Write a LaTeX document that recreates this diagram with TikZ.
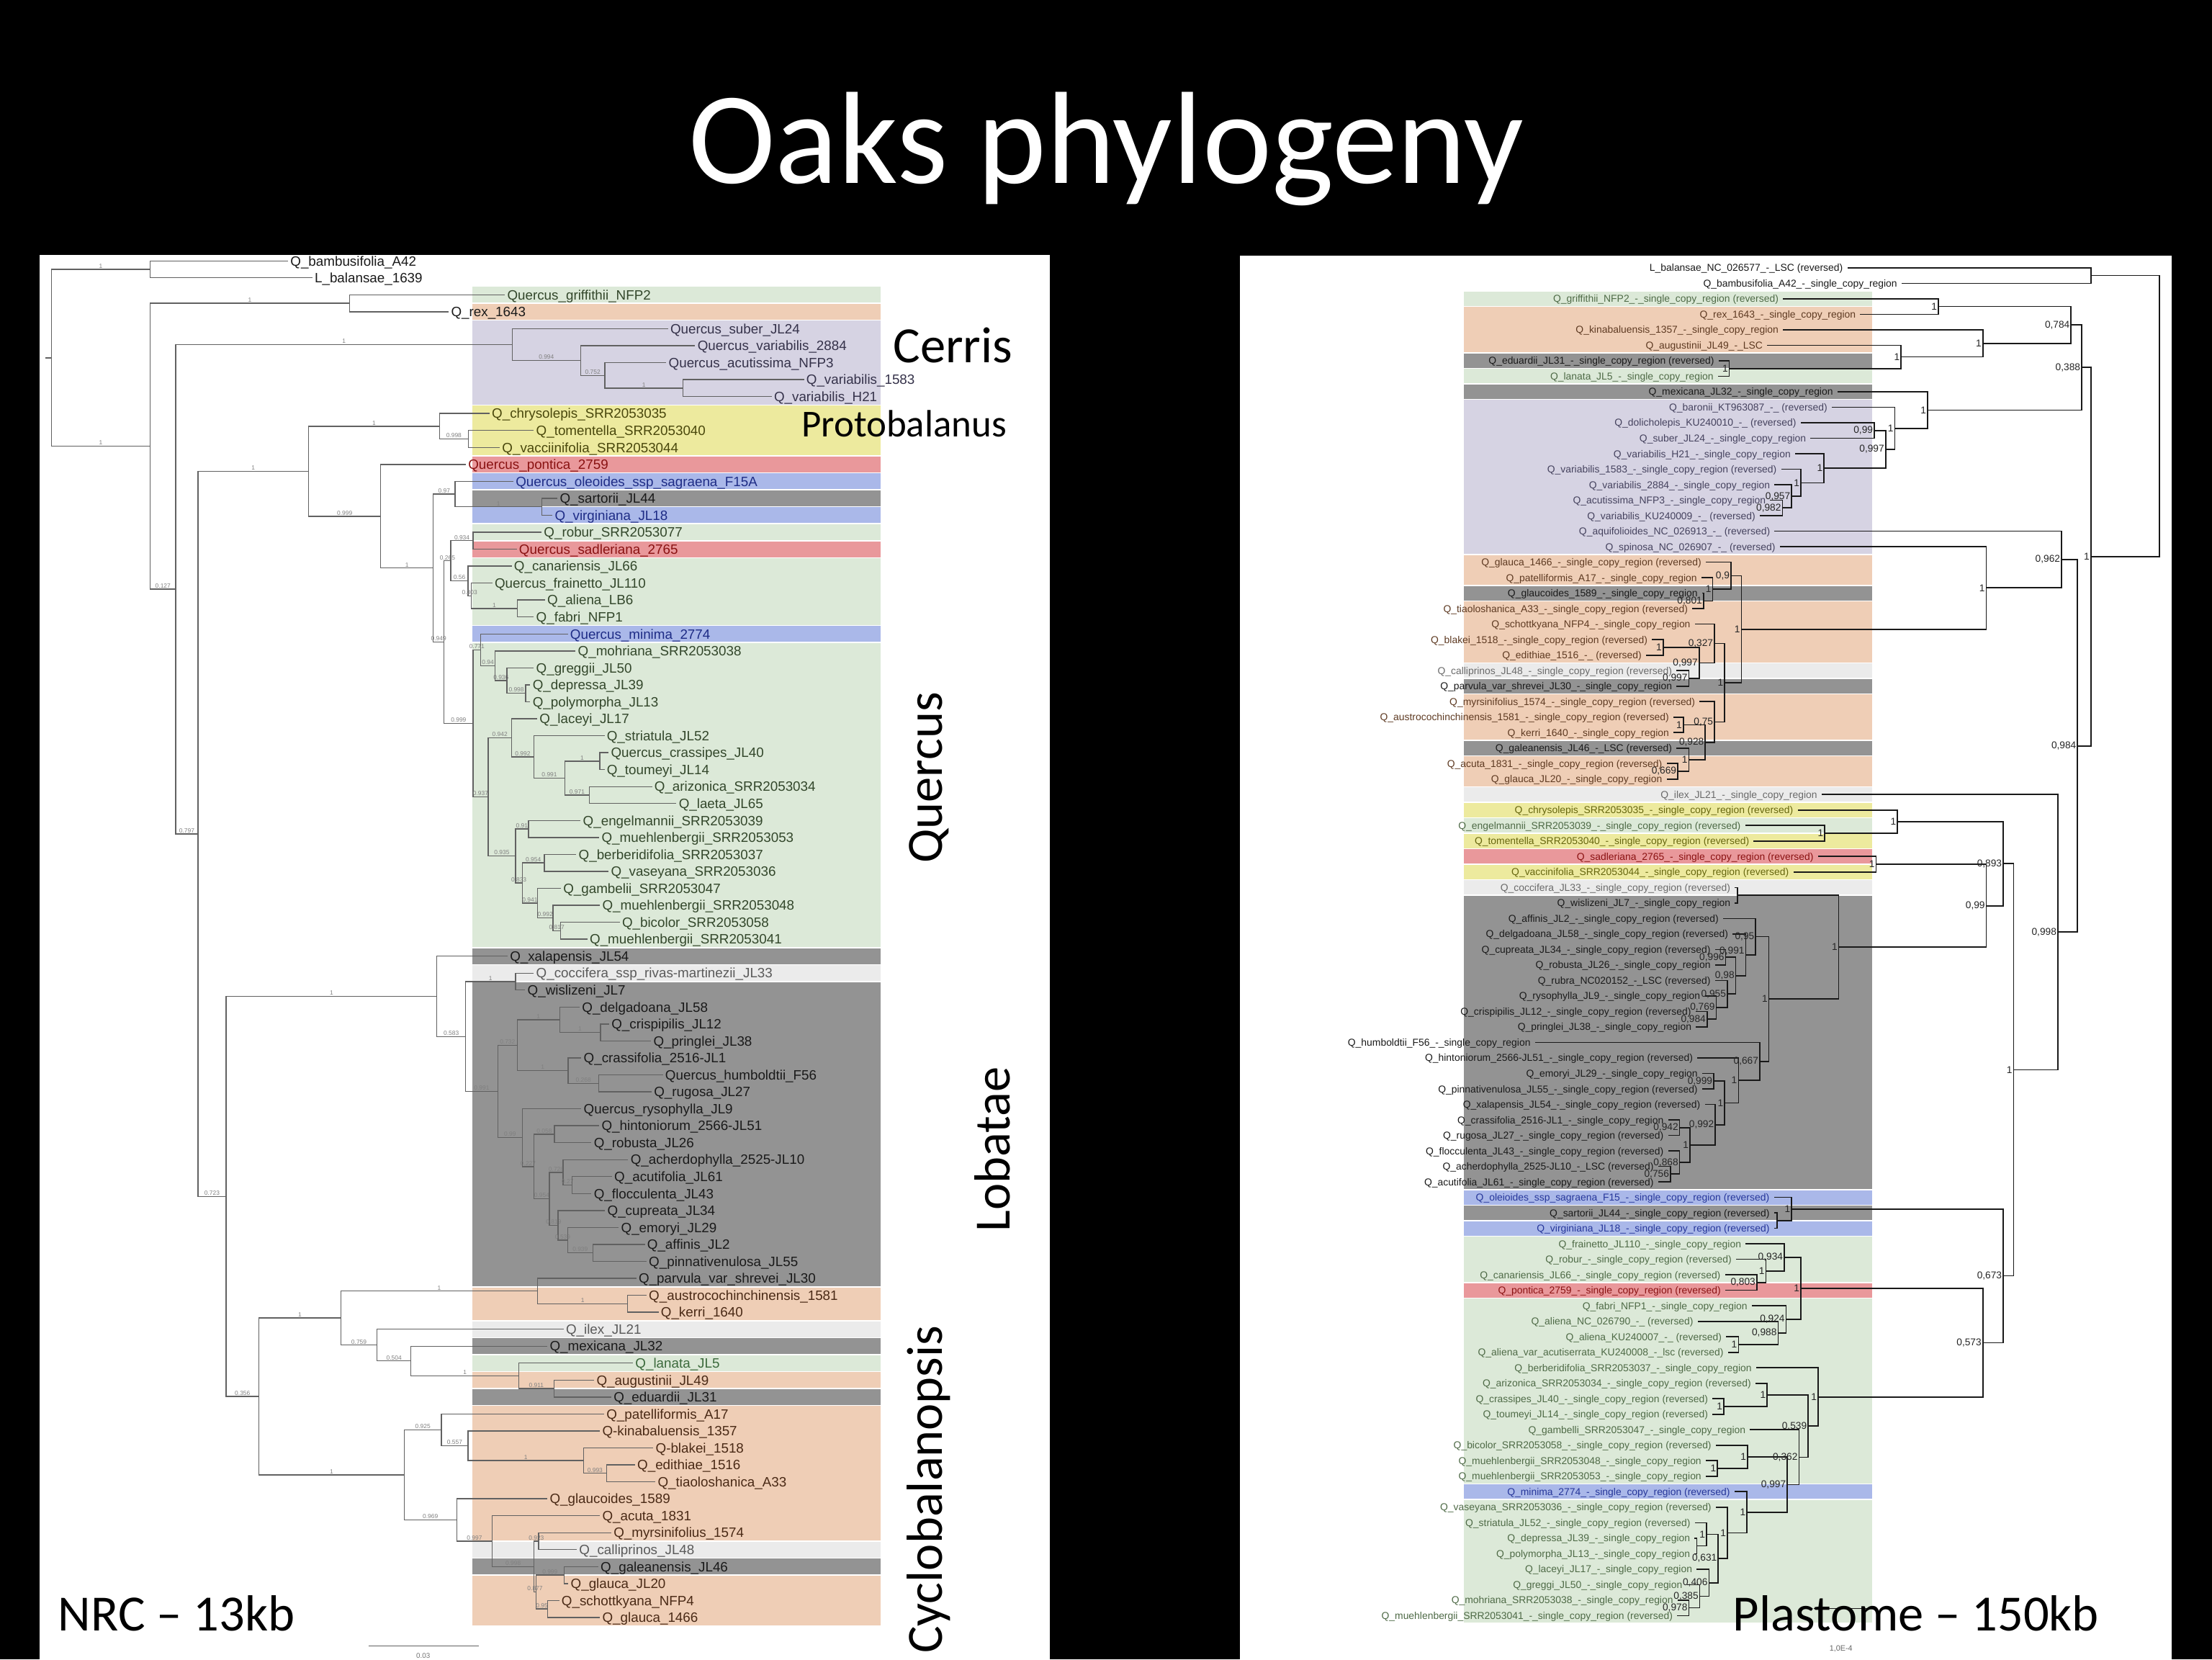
\documentclass[tikz,border=0pt]{standalone}
\usepackage{fontspec}
\setmainfont{Liberation Sans}
\newfontfamily\calfnt{Carlito}
\definecolor{bpeach}{HTML}{EFCEB6}
\definecolor{blav}{HTML}{D6D3E3}
\definecolor{bgreen}{HTML}{DCE9D8}
\definecolor{byellow}{HTML}{EDEA9E}
\definecolor{bred}{HTML}{E9989B}
\definecolor{bblue}{HTML}{AAB8E9}
\definecolor{bgray}{HTML}{939393}
\definecolor{blgray}{HTML}{EBEBEB}
\definecolor{ctk}{HTML}{1A1A1A}
\definecolor{ctg}{HTML}{33472B}
\definecolor{ctp}{HTML}{4A2A16}
\definecolor{ctv}{HTML}{35324A}
\definecolor{cty}{HTML}{4A480C}
\definecolor{ctr}{HTML}{8A1212}
\definecolor{ctb}{HTML}{1E2C86}
\definecolor{ctq}{HTML}{5A5A5A}
\definecolor{ctn}{HTML}{3C6A3C}
\definecolor{cug}{HTML}{4E6A46}
\definecolor{cup}{HTML}{5E3A22}
\definecolor{cuv}{HTML}{45425E}
\definecolor{cuy}{HTML}{66660E}
\definecolor{cub}{HTML}{26369A}
\definecolor{cuq}{HTML}{6A6A6A}
\newcommand\qn[1]{\detokenize{#1}}
\newcommand\LY[1]{184.9+12.018*(#1)}
\newcommand\RY[1]{189.8+10.98*(#1)}
\begin{document}
\begin{tikzpicture}[x=1pt,y=-1pt,
  ll/.style={anchor=west,font=\fontsize{9.6}{10}\selectfont,inner xsep=1.5pt,inner ysep=0pt,text height=6.9pt,text depth=0pt},
  rl/.style={anchor=east,font=\fontsize{7.1}{8}\selectfont,inner xsep=3pt,inner ysep=0pt,text height=5.1pt,text depth=0pt},
  ltr/.style={draw=black!62,line width=0.7pt},
  rtr/.style={draw=black!90,line width=0.85pt},
  ls/.style={pos=0.75,above,font=\fontsize{4.3}{4.3}\selectfont,text=black!50,inner sep=0.5pt},
  rs/.style={anchor=east,font=\fontsize{7}{7}\selectfont,text=black!85,inner sep=0.8pt},
  bigt/.style={font=\calfnt\fontsize{36}{36}\selectfont,inner sep=0pt,text=black},
  tk/.style={text=ctk},tg/.style={text=ctg},tp/.style={text=ctp},tv/.style={text=ctv},
  ty/.style={text=cty},tr/.style={text=ctr},tb/.style={text=ctb},tq/.style={text=ctq},tn/.style={text=ctn},
  ug/.style={text=cug},up/.style={text=cup},uv/.style={text=cuv},uy/.style={text=cuy},
  ub/.style={text=cub},uq/.style={text=cuq}]
\useasboundingbox (0,0) rectangle (1568,1176);
\fill[black] (0,0) rectangle (1568,1176);
\fill[white] (28.1,180.5) rectangle (744,1176);
\fill[white] (879,181) rectangle (1539.5,1176);
\node[font=\calfnt\fontsize{93}{93}\selectfont,text=white,anchor=base,inner sep=0pt] (title) at (784,130) {Oaks phylogeny};

% ---------- left bands
\foreach \a/\b/\c in {2/2/bgreen,3/3/bpeach,4/8/blav,9/11/byellow,12/12/bred,13/13/bblue,14/14/bgray,15/15/bblue,16/16/bgreen,17/17/bred,18/21/bgreen,22/22/bblue,23/40/bgreen,41/41/bgray,42/42/blgray,43/60/bgray,61/62/bpeach,63/63/blgray,64/64/bgray,65/65/bgreen,66/66/bpeach,67/67/bgray,68/75/bpeach,76/76/blgray,77/77/bgray,78/80/bpeach}
  \fill[\c] (334.8,{\LY{\a}-5.6}) rectangle (624.4,{\LY{\b}+5.6});
% ---------- right bands
\foreach \a/\b/\c in {2/2/bgreen,3/5/bpeach,6/6/bgray,7/7/bgreen,8/8/bgray,9/18/blav,19/20/bpeach,21/21/bgray,22/25/bpeach,26/26/blgray,27/27/bgray,28/30/bpeach,31/31/bgray,32/33/bpeach,34/34/blgray,35/35/byellow,36/36/bgreen,37/37/byellow,38/38/bred,39/39/byellow,40/40/blgray,41/59/bgray,60/60/bblue,61/61/bgray,62/62/bblue,63/65/bgreen,66/66/bred,67/78/bgreen,79/79/bblue,80/87/bgreen}
  \fill[\c] (1037.7,{\RY{\a}-5.1}) rectangle (1327.3,{\RY{\b}+5.1});

% ---------- left leaves
\node[ll,tk] (a0) at (204.2,{\LY{0}}) {\qn{Q_bambusifolia_A42}};
\node[ll,tk] (a1) at (221.4,{\LY{1}}) {\qn{L_balansae_1639}};
\node[ll,tg] (a2) at (357.9,{\LY{2}}) {\qn{Quercus_griffithii_NFP2}};
\node[ll,tk] (a3) at (318.1,{\LY{3}}) {\qn{Q_rex_1643}};
\node[ll,tv] (a4) at (473.5,{\LY{4}}) {\qn{Quercus_suber_JL24}};
\node[ll,tv] (a5) at (492.8,{\LY{5}}) {\qn{Quercus_variabilis_2884}};
\node[ll,tv] (a6) at (472.3,{\LY{6}}) {\qn{Quercus_acutissima_NFP3}};
\node[ll,tv] (a7) at (569.9,{\LY{7}}) {\qn{Q_variabilis_1583}};
\node[ll,tv] (a8) at (547.0,{\LY{8}}) {\qn{Q_variabilis_H21}};
\node[ll,ty] (a9) at (347.0,{\LY{9}}) {\qn{Q_chrysolepis_SRR2053035}};
\node[ll,ty] (a10) at (378.4,{\LY{10}}) {\qn{Q_tomentella_SRR2053040}};
\node[ll,ty] (a11) at (354.3,{\LY{11}}) {\qn{Q_vacciinifolia_SRR2053044}};
\node[ll,tr] (a12) at (330.2,{\LY{12}}) {\qn{Quercus_pontica_2759}};
\node[ll,tb] (a13) at (363.9,{\LY{13}}) {\qn{Quercus_oleoides_ssp_sagraena_F15A}};
\node[ll,tk] (a14) at (395.2,{\LY{14}}) {\qn{Q_sartorii_JL44}};
\node[ll,tb] (a15) at (391.6,{\LY{15}}) {\qn{Q_virginiana_JL18}};
\node[ll,tg] (a16) at (383.9,{\LY{16}}) {\qn{Q_robur_SRR2053077}};
\node[ll,tr] (a17) at (366.3,{\LY{17}}) {\qn{Quercus_sadleriana_2765}};
\node[ll,tg] (a18) at (362.7,{\LY{18}}) {\qn{Q_canariensis_JL66}};
\node[ll,tg] (a19) at (349.0,{\LY{19}}) {\qn{Quercus_frainetto_JL110}};
\node[ll,tg] (a20) at (386.3,{\LY{20}}) {\qn{Q_aliena_LB6}};
\node[ll,tg] (a21) at (378.4,{\LY{21}}) {\qn{Q_fabri_NFP1}};
\node[ll,tb] (a22) at (402.5,{\LY{22}}) {\qn{Quercus_minima_2774}};
\node[ll,tg] (a23) at (408.0,{\LY{23}}) {\qn{Q_mohriana_SRR2053038}};
\node[ll,tg] (a24) at (378.4,{\LY{24}}) {\qn{Q_greggii_JL50}};
\node[ll,tg] (a25) at (375.9,{\LY{25}}) {\qn{Q_depressa_JL39}};
\node[ll,tg] (a26) at (375.9,{\LY{26}}) {\qn{Q_polymorpha_JL13}};
\node[ll,tg] (a27) at (380.8,{\LY{27}}) {\qn{Q_laceyi_JL17}};
\node[ll,tg] (a28) at (428.5,{\LY{28}}) {\qn{Q_striatula_JL52}};
\node[ll,tg] (a29) at (431.4,{\LY{29}}) {\qn{Quercus_crassipes_JL40}};
\node[ll,tg] (a30) at (428.5,{\LY{30}}) {\qn{Q_toumeyi_JL14}};
\node[ll,tg] (a31) at (462.2,{\LY{31}}) {\qn{Q_arizonica_SRR2053034}};
\node[ll,tg] (a32) at (479.5,{\LY{32}}) {\qn{Q_laeta_JL65}};
\node[ll,tg] (a33) at (411.6,{\LY{33}}) {\qn{Q_engelmannii_SRR2053039}};
\node[ll,tg] (a34) at (424.8,{\LY{34}}) {\qn{Q_muehlenbergii_SRR2053053}};
\node[ll,tg] (a35) at (408.5,{\LY{35}}) {\qn{Q_berberidifolia_SRR2053037}};
\node[ll,tg] (a36) at (431.4,{\LY{36}}) {\qn{Q_vaseyana_SRR2053036}};
\node[ll,tg] (a37) at (397.6,{\LY{37}}) {\qn{Q_gambelii_SRR2053047}};
\node[ll,tg] (a38) at (425.3,{\LY{38}}) {\qn{Q_muehlenbergii_SRR2053048}};
\node[ll,tg] (a39) at (439.3,{\LY{39}}) {\qn{Q_bicolor_SRR2053058}};
\node[ll,tg] (a40) at (416.4,{\LY{40}}) {\qn{Q_muehlenbergii_SRR2053041}};
\node[ll,tk] (a41) at (359.8,{\LY{41}}) {\qn{Q_xalapensis_JL54}};
\node[ll,tq] (a42) at (378.4,{\LY{42}}) {\qn{Q_coccifera_ssp_rivas-martinezii_JL33}};
\node[ll,tk] (a43) at (372.3,{\LY{43}}) {\qn{Q_wislizeni_JL7}};
\node[ll,tk] (a44) at (410.9,{\LY{44}}) {\qn{Q_delgadoana_JL58}};
\node[ll,tk] (a45) at (431.8,{\LY{45}}) {\qn{Q_crispipilis_JL12}};
\node[ll,tk] (a46) at (461.5,{\LY{46}}) {\qn{Q_pringlei_JL38}};
\node[ll,tk] (a47) at (412.1,{\LY{47}}) {\qn{Q_crassifolia_2516-JL1}};
\node[ll,tk] (a48) at (469.9,{\LY{48}}) {\qn{Quercus_humboldtii_F56}};
\node[ll,tk] (a49) at (461.9,{\LY{49}}) {\qn{Q_rugosa_JL27}};
\node[ll,tk] (a50) at (412.1,{\LY{50}}) {\qn{Quercus_rysophylla_JL9}};
\node[ll,tk] (a51) at (424.8,{\LY{51}}) {\qn{Q_hintoniorum_2566-JL51}};
\node[ll,tk] (a52) at (419.3,{\LY{52}}) {\qn{Q_robusta_JL26}};
\node[ll,tk] (a53) at (445.3,{\LY{53}}) {\qn{Q_acherdophylla_2525-JL10}};
\node[ll,tk] (a54) at (433.8,{\LY{54}}) {\qn{Q_acutifolia_JL61}};
\node[ll,tk] (a55) at (419.3,{\LY{55}}) {\qn{Q_flocculenta_JL43}};
\node[ll,tk] (a56) at (428.9,{\LY{56}}) {\qn{Q_cupreata_JL34}};
\node[ll,tk] (a57) at (438.6,{\LY{57}}) {\qn{Q_emoryi_JL29}};
\node[ll,tk] (a58) at (457.1,{\LY{58}}) {\qn{Q_affinis_JL2}};
\node[ll,tk] (a59) at (458.3,{\LY{59}}) {\qn{Q_pinnativenulosa_JL55}};
\node[ll,tk] (a60) at (451.1,{\LY{60}}) {\qn{Q_parvula_var_shrevei_JL30}};
\node[ll,tp] (a61) at (458.3,{\LY{61}}) {\qn{Q_austrocochinchinensis_1581}};
\node[ll,tp] (a62) at (466.8,{\LY{62}}) {\qn{Q_kerri_1640}};
\node[ll,tq] (a63) at (399.5,{\LY{63}}) {\qn{Q_ilex_JL21}};
\node[ll,tk] (a64) at (388.0,{\LY{64}}) {\qn{Q_mexicana_JL32}};
\node[ll,tn] (a65) at (448.7,{\LY{65}}) {\qn{Q_lanata_JL5}};
\node[ll,tp] (a66) at (421.2,{\LY{66}}) {\qn{Q_augustinii_JL49}};
\node[ll,tk] (a67) at (433.3,{\LY{67}}) {\qn{Q_eduardii_JL31}};
\node[ll,tp] (a68) at (428.2,{\LY{68}}) {\qn{Q_patelliformis_A17}};
\node[ll,tp] (a69) at (425.3,{\LY{69}}) {\qn{Q-kinabaluensis_1357}};
\node[ll,tp] (a70) at (463.1,{\LY{70}}) {\qn{Q-blakei_1518}};
\node[ll,tp] (a71) at (450.1,{\LY{71}}) {\qn{Q_edithiae_1516}};
\node[ll,tp] (a72) at (464.6,{\LY{72}}) {\qn{Q_tiaoloshanica_A33}};
\node[ll,tp] (a73) at (388.0,{\LY{73}}) {\qn{Q_glaucoides_1589}};
\node[ll,tp] (a74) at (425.3,{\LY{74}}) {\qn{Q_acuta_1831}};
\node[ll,tp] (a75) at (433.3,{\LY{75}}) {\qn{Q_myrsinifolius_1574}};
\node[ll,tq] (a76) at (408.9,{\LY{76}}) {\qn{Q_calliprinos_JL48}};
\node[ll,tk] (a77) at (424.1,{\LY{77}}) {\qn{Q_galeanensis_JL46}};
\node[ll,tp] (a78) at (402.9,{\LY{78}}) {\qn{Q_glauca_JL20}};
\node[ll,tp] (a79) at (396.4,{\LY{79}}) {\qn{Q_schottkyana_NFP4}};
\node[ll,tp] (a80) at (425.3,{\LY{80}}) {\qn{Q_glauca_1466}};

% ---------- left internal nodes
\coordinate (Lst) at (32.1,{\LY{5.72}});
\coordinate (L0) at (36.6,{\LY{5.72}});
\coordinate (L1) at (106.4,{\LY{0.5}});
\coordinate (L2) at (106.4,{\LY{10.93}});
\coordinate (L3) at (247.7,{\LY{2.5}});
\coordinate (L4) at (124.6,{\LY{19.36}});
\coordinate (C1) at (363,{\LY{4.9375}});
\coordinate (C2) at (411.6,{\LY{5.875}});
\coordinate (C3) at (428.8,{\LY{6.75}});
\coordinate (C4) at (484,{\LY{7.5}});
\coordinate (L5) at (140.3,{\LY{33.79}});
\coordinate (L6) at (218.8,{\LY{12.4}});
\coordinate (L7) at (311.5,{\LY{9.75}});
\coordinate (L8) at (332,{\LY{10.5}});
\coordinate (L9) at (269.9,{\LY{15.06}});
\coordinate (L10) at (307.1,{\LY{18.11}});
\coordinate (L11) at (322.5,{\LY{13.75}});
\coordinate (L12) at (384.2,{\LY{14.5}});
\coordinate (L13) at (314.8,{\LY{22.48}});
\coordinate (L14) at (319.6,{\LY{17.69}});
\coordinate (L16) at (335.3,{\LY{16.5}});
\coordinate (L17) at (331.7,{\LY{18.875}});
\coordinate (L18) at (334.1,{\LY{19.75}});
\coordinate (L19) at (366.6,{\LY{20.5}});
\coordinate (L15) at (335.3,{\LY{27.27}});
\coordinate (L20) at (340.8,{\LY{22.94}});
\coordinate (L21) at (350.9,{\LY{23.875}});
\coordinate (L22) at (359.4,{\LY{24.75}});
\coordinate (L23) at (372.6,{\LY{25.5}});
\coordinate (L24) at (346.1,{\LY{31.61}});
\coordinate (L25) at (362.5,{\LY{28.125}});
\coordinate (L26) at (378.6,{\LY{29.25}});
\coordinate (L27) at (400.3,{\LY{30.5}});
\coordinate (L28) at (425.1,{\LY{29.5}});
\coordinate (L29) at (417.9,{\LY{31.5}});
\coordinate (L30) at (365.4,{\LY{35.09}});
\coordinate (L31) at (374.6,{\LY{33.5}});
\coordinate (L33) at (370.2,{\LY{36.69}});
\coordinate (L32) at (385.9,{\LY{35.5}});
\coordinate (L34) at (381.1,{\LY{37.875}});
\coordinate (L35) at (391.9,{\LY{38.75}});
\coordinate (L36) at (397.4,{\LY{39.5}});
\coordinate (L37) at (160.3,{\LY{55.17}});
\coordinate (L38) at (309.7,{\LY{43.37}});
\coordinate (L40) at (330,{\LY{45.74}});
\coordinate (L41) at (365.4,{\LY{42.5}});
\coordinate (L42) at (352.9,{\LY{48.98}});
\coordinate (L43) at (366.6,{\LY{46.25}});
\coordinate (L44) at (396.7,{\LY{44.75}});
\coordinate (L45) at (425.6,{\LY{45.5}});
\coordinate (L46) at (402.7,{\LY{47.75}});
\coordinate (L47) at (424.4,{\LY{48.5}});
\coordinate (L48) at (370.2,{\LY{51.7}});
\coordinate (L49) at (378.6,{\LY{53.41}});
\coordinate (L50) at (393.1,{\LY{51.5}});
\coordinate (L51) at (389.5,{\LY{55.31}});
\coordinate (L52) at (399.1,{\LY{53.75}});
\coordinate (L53) at (405.6,{\LY{54.5}});
\coordinate (L54) at (395.5,{\LY{56.875}});
\coordinate (L55) at (402.3,{\LY{57.75}});
\coordinate (L56) at (420.3,{\LY{58.5}});
\coordinate (L59) at (183.5,{\LY{66.97}});
\coordinate (L58) at (241.6,{\LY{62.34}});
\coordinate (L60) at (381.1,{\LY{60.75}});
\coordinate (L57) at (444.9,{\LY{61.5}});
\coordinate (L61) at (267.3,{\LY{63.94}});
\coordinate (L62) at (291.3,{\LY{64.875}});
\coordinate (L63) at (367.8,{\LY{65.75}});
\coordinate (L64) at (392.6,{\LY{66.5}});
\coordinate (L65) at (286.5,{\LY{71.6}});
\coordinate (L66) at (312.9,{\LY{68.94}});
\coordinate (L67) at (331.7,{\LY{69.875}});
\coordinate (L68) at (413.6,{\LY{70.75}});
\coordinate (L69) at (430,{\LY{71.5}});
\coordinate (L70) at (323.7,{\LY{74.25}});
\coordinate (L71) at (349,{\LY{75.5}});
\coordinate (L72) at (378.6,{\LY{77}});
\coordinate (L73) at (381.8,{\LY{75.5}});
\coordinate (L74) at (379.9,{\LY{78.5}});
\coordinate (L75) at (399.8,{\LY{77.5}});
\coordinate (L76) at (388.3,{\LY{79.5}});

\draw[ltr] (Lst) -- (L0);
\foreach \p/\c/\s in {L0/L1/1,L0/L2/1,L2/L3/1,L2/L4/0.127,L4/C1/1,C1/C2/0.994,C2/C3/0.752,C3/C4/1,L4/L5/0.797,L5/L6/1,L6/L7/1,L7/L8/0.998,L6/L9/0.999,L9/L10/1,L10/L11/0.97,L11/L12/1,L10/L13/0.949,L13/L14/0.265,L14/L16/0.934,L14/L17/0.56,L17/L18/0.303,L18/L19/1,L13/L15/0.999,L15/L20/0.771,L20/L21/0.94,L21/L22/0.936,L22/L23/0.998,L15/L24/0.937,L24/L25/0.942,L25/L26/0.992,L26/L27/0.991,L27/L28/1,L27/L29/0.971,L24/L30/0.935,L30/L31/0.91,L30/L33/0.833,L33/L32/0.954,L33/L34/0.941,L34/L35/0.992,L35/L36/0.817,L5/L37/0.723,L37/L38/1,L38/L40/0.583,L40/L41/1,L40/L42/0.991,L42/L43/0.732,L43/L44/1,L44/L45/1,L43/L46/1,L46/L47/0.268,L42/L48/0.99,L48/L49/0.227,L49/L50/0.058,L49/L51/0.954,L51/L52/0.728,L52/L53/0.27,L51/L54/0.819,L54/L55/0.539,L55/L56/0.939,L37/L59/0.356,L59/L58/1,L58/L60/1,L60/L57/1,L58/L61/0.759,L61/L62/0.504,L62/L63/1,L63/L64/0.911,L59/L65/1,L65/L66/0.925,L66/L67/0.557,L67/L68/1,L68/L69/0.993,L65/L70/0.969,L70/L71/0.997,L71/L72/0.998,L72/L73/0.923,L72/L74/0.877,L74/L75/0.999,L74/L76/0.95}
  \draw[ltr] (\p) |- node[ls] (s\c) {\s} (\c);
\foreach \p/\c in {L1/a0,L1/a1,L3/a2,L3/a3,C1/a4,C2/a5,C3/a6,C4/a7,C4/a8,L7/a9,L8/a10,L8/a11,L9/a12,L11/a13,L12/a14,L12/a15,L16/a16,L16/a17,L17/a18,L18/a19,L19/a20,L19/a21,L20/a22,L21/a23,L22/a24,L23/a25,L23/a26,L25/a27,L26/a28,L28/a29,L28/a30,L29/a31,L29/a32,L31/a33,L31/a34,L32/a35,L32/a36,L34/a37,L35/a38,L36/a39,L36/a40,L38/a41,L41/a42,L41/a43,L44/a44,L45/a45,L45/a46,L46/a47,L47/a48,L47/a49,L48/a50,L50/a51,L50/a52,L52/a53,L53/a54,L53/a55,L54/a56,L55/a57,L56/a58,L56/a59,L60/a60,L57/a61,L57/a62,L61/a63,L62/a64,L63/a65,L64/a66,L64/a67,L66/a68,L67/a69,L68/a70,L69/a71,L69/a72,L70/a73,L71/a74,L73/a75,L73/a76,L75/a77,L75/a78,L76/a79,L76/a80}
  \draw[ltr] (\p) |- (\c.west);

\coordinate (sb1) at (261.2,1166.6);
\coordinate (sb2) at (339.4,1166.6);
\draw[ltr] (sb1) -- (sb2);
\node[font=\fontsize{5}{5}\selectfont,text=black!55,inner sep=0pt] (sbl) at (300,1173.5) {0.03};

% ---------- right leaves
\node[rl,tk] (b0) at (1309.5,{\RY{0}}) {\qn{L_balansae_NC_026577_-_LSC (reversed)}};
\node[rl,tk] (b1) at (1348,{\RY{1}}) {\qn{Q_bambusifolia_A42_-_single_copy_region}};
\node[rl,ug] (b2) at (1263.9,{\RY{2}}) {\qn{Q_griffithii_NFP2_-_single_copy_region (reversed)}};
\node[rl,up] (b3) at (1318.6,{\RY{3}}) {\qn{Q_rex_1643_-_single_copy_region}};
\node[rl,up] (b4) at (1263.9,{\RY{4}}) {\qn{Q_kinabaluensis_1357_-_single_copy_region}};
\node[rl,up] (b5) at (1252.7,{\RY{5}}) {\qn{Q_augustinii_JL49_-_LSC}};
\node[rl,tk] (b6) at (1218.3,{\RY{6}}) {\qn{Q_eduardii_JL31_-_single_copy_region (reversed)}};
\node[rl,ug] (b7) at (1217.8,{\RY{7}}) {\qn{Q_lanata_JL5_-_single_copy_region}};
\node[rl,tk] (b8) at (1302.5,{\RY{8}}) {\qn{Q_mexicana_JL32_-_single_copy_region}};
\node[rl,uv] (b9) at (1298.5,{\RY{9}}) {\qn{Q_baronii_KT963087_-_ (reversed)}};
\node[rl,uv] (b10) at (1276.4,{\RY{10}}) {\qn{Q_dolicholepis_KU240010_-_ (reversed)}};
\node[rl,uv] (b11) at (1283.4,{\RY{11}}) {\qn{Q_suber_JL24_-_single_copy_region}};
\node[rl,uv] (b12) at (1272.5,{\RY{12}}) {\qn{Q_variabilis_H21_-_single_copy_region}};
\node[rl,uv] (b13) at (1262.6,{\RY{13}}) {\qn{Q_variabilis_1583_-_single_copy_region (reversed)}};
\node[rl,uv] (b14) at (1257.9,{\RY{14}}) {\qn{Q_variabilis_2884_-_single_copy_region}};
\node[rl,uv] (b15) at (1254.8,{\RY{15}}) {\qn{Q_acutissima_NFP3_-_single_copy_region}};
\node[rl,uv] (b16) at (1247.5,{\RY{16}}) {\qn{Q_variabilis_KU240009_-_ (reversed)}};
\node[rl,uv] (b17) at (1257.9,{\RY{17}}) {\qn{Q_aquifolioides_NC_026913_-_ (reversed)}};
\node[rl,uv] (b18) at (1261.6,{\RY{18}}) {\qn{Q_spinosa_NC_026907_-_ (reversed)}};
\node[rl,up] (b19) at (1209.2,{\RY{19}}) {\qn{Q_glauca_1466_-_single_copy_region (reversed)}};
\node[rl,up] (b20) at (1206.1,{\RY{20}}) {\qn{Q_patelliformis_A17_-_single_copy_region}};
\node[rl,tk] (b21) at (1206.6,{\RY{21}}) {\qn{Q_glaucoides_1589_-_single_copy_region}};
\node[rl,up] (b22) at (1199.6,{\RY{22}}) {\qn{Q_tiaoloshanica_A33_-_single_copy_region (reversed)}};
\node[rl,up] (b23) at (1201.4,{\RY{23}}) {\qn{Q_schottkyana_NFP4_-_single_copy_region}};
\node[rl,up] (b24) at (1171,{\RY{24}}) {\qn{Q_blakei_1518_-_single_copy_region (reversed)}};
\node[rl,up] (b25) at (1166.8,{\RY{25}}) {\qn{Q_edithiae_1516_-_ (reversed)}};
\node[rl,uq] (b26) at (1188.4,{\RY{26}}) {\qn{Q_calliprinos_JL48_-_single_copy_region (reversed)}};
\node[rl,tk] (b27) at (1188.4,{\RY{27}}) {\qn{Q_parvula_var_shrevei_JL30_-_single_copy_region}};
\node[rl,up] (b28) at (1204.8,{\RY{28}}) {\qn{Q_myrsinifolius_1574_-_single_copy_region (reversed)}};
\node[rl,up] (b29) at (1186.3,{\RY{29}}) {\qn{Q_austrocochinchinensis_1581_-_single_copy_region (reversed)}};
\node[rl,up] (b30) at (1186.3,{\RY{30}}) {\qn{Q_kerri_1640_-_single_copy_region}};
\node[rl,tk] (b31) at (1188.4,{\RY{31}}) {\qn{Q_galeanensis_JL46_-_LSC (reversed)}};
\node[rl,up] (b32) at (1181.4,{\RY{32}}) {\qn{Q_acuta_1831_-_single_copy_region (reversed)}};
\node[rl,up] (b33) at (1181.4,{\RY{33}}) {\qn{Q_glauca_JL20_-_single_copy_region}};
\node[rl,uq] (b34) at (1291.3,{\RY{34}}) {\qn{Q_ilex_JL21_-_single_copy_region}};
\node[rl,uy] (b35) at (1274.3,{\RY{35}}) {\qn{Q_chrysolepis_SRR2053035_-_single_copy_region (reversed)}};
\node[rl,ug] (b36) at (1237.1,{\RY{36}}) {\qn{Q_engelmannii_SRR2053039_-_single_copy_region (reversed)}};
\node[rl,uy] (b37) at (1243.1,{\RY{37}}) {\qn{Q_tomentella_SRR2053040_-_single_copy_region (reversed)}};
\node[rl,tr] (b38) at (1288.7,{\RY{38}}) {\qn{Q_sadleriana_2765_-_single_copy_region (reversed)}};
\node[rl,uy] (b39) at (1271.2,{\RY{39}}) {\qn{Q_vaccinifolia_SRR2053044_-_single_copy_region (reversed)}};
\node[rl,uq] (b40) at (1229.8,{\RY{40}}) {\qn{Q_coccifera_JL33_-_single_copy_region (reversed)}};
\node[rl,tk] (b41) at (1229.8,{\RY{41}}) {\qn{Q_wislizeni_JL7_-_single_copy_region}};
\node[rl,tk] (b42) at (1221.5,{\RY{42}}) {\qn{Q_affinis_JL2_-_single_copy_region (reversed)}};
\node[rl,tk] (b43) at (1228.2,{\RY{43}}) {\qn{Q_delgadoana_JL58_-_single_copy_region (reversed)}};
\node[rl,tk] (b44) at (1215.7,{\RY{44}}) {\qn{Q_cupreata_JL34_-_single_copy_region (reversed)}};
\node[rl,tk] (b45) at (1215.7,{\RY{45}}) {\qn{Q_robusta_JL26_-_single_copy_region}};
\node[rl,tk] (b46) at (1215.7,{\RY{46}}) {\qn{Q_rubra_NC020152_-_LSC (reversed)}};
\node[rl,tk] (b47) at (1208.4,{\RY{47}}) {\qn{Q_rysophylla_JL9_-_single_copy_region}};
\node[rl,tk] (b48) at (1201.9,{\RY{48}}) {\qn{Q_crispipilis_JL12_-_single_copy_region (reversed)}};
\node[rl,tk] (b49) at (1202.2,{\RY{49}}) {\qn{Q_pringlei_JL38_-_single_copy_region}};
\node[rl,tk] (b50) at (1088.1,{\RY{50}}) {\qn{Q_humboldtii_F56_-_single_copy_region}};
\node[rl,tk] (b51) at (1203.2,{\RY{51}}) {\qn{Q_hintoniorum_2566-JL51_-_single_copy_region (reversed)}};
\node[rl,tk] (b52) at (1206.6,{\RY{52}}) {\qn{Q_emoryi_JL29_-_single_copy_region}};
\node[rl,tk] (b53) at (1206.6,{\RY{53}}) {\qn{Q_pinnativenulosa_JL55_-_single_copy_region (reversed)}};
\node[rl,tk] (b54) at (1208.4,{\RY{54}}) {\qn{Q_xalapensis_JL54_-_single_copy_region (reversed)}};
\node[rl,tk] (b55) at (1182.4,{\RY{55}}) {\qn{Q_crassifolia_2516-JL1_-_single_copy_region}};
\node[rl,tk] (b56) at (1182.4,{\RY{56}}) {\qn{Q_rugosa_JL27_-_single_copy_region (reversed)}};
\node[rl,tk] (b57) at (1182.4,{\RY{57}}) {\qn{Q_flocculenta_JL43_-_single_copy_region (reversed)}};
\node[rl,tk] (b58) at (1175.4,{\RY{58}}) {\qn{Q_acherdophylla_2525-JL10_-_LSC (reversed)}};
\node[rl,tk] (b59) at (1175.4,{\RY{59}}) {\qn{Q_acutifolia_JL61_-_single_copy_region (reversed)}};
\node[rl,ub] (b60) at (1257.4,{\RY{60}}) {\qn{Q_oleioides_ssp_sagraena_F15_-_single_copy_region (reversed)}};
\node[rl,tk] (b61) at (1257.6,{\RY{61}}) {\qn{Q_sartorii_JL44_-_single_copy_region (reversed)}};
\node[rl,ub] (b62) at (1257.6,{\RY{62}}) {\qn{Q_virginiana_JL18_-_single_copy_region (reversed)}};
\node[rl,ug] (b63) at (1237.4,{\RY{63}}) {\qn{Q_frainetto_JL110_-_single_copy_region}};
\node[rl,ug] (b64) at (1230.6,{\RY{64}}) {\qn{Q_robur_-_single_copy_region (reversed)}};
\node[rl,ug] (b65) at (1222.8,{\RY{65}}) {\qn{Q_canariensis_JL66_-_single_copy_region (reversed)}};
\node[rl,tr] (b66) at (1223,{\RY{66}}) {\qn{Q_pontica_2759_-_single_copy_region (reversed)}};
\node[rl,ug] (b67) at (1241.8,{\RY{67}}) {\qn{Q_fabri_NFP1_-_single_copy_region}};
\node[rl,ug] (b68) at (1203.5,{\RY{68}}) {\qn{Q_aliena_NC_026790_-_ (reversed)}};
\node[rl,ug] (b69) at (1223.6,{\RY{69}}) {\qn{Q_aliena_KU240007_-_ (reversed)}};
\node[rl,ug] (b70) at (1224.9,{\RY{70}}) {\qn{Q_aliena_var_acutiserrata_KU240008_-_lsc (reversed)}};
\node[rl,ug] (b71) at (1244.9,{\RY{71}}) {\qn{Q_berberidifolia_SRR2053037_-_single_copy_region}};
\node[rl,ug] (b72) at (1244.4,{\RY{72}}) {\qn{Q_arizonica_SRR2053034_-_single_copy_region (reversed)}};
\node[rl,ug] (b73) at (1213.9,{\RY{73}}) {\qn{Q_crassipes_JL40_-_single_copy_region (reversed)}};
\node[rl,ug] (b74) at (1213.9,{\RY{74}}) {\qn{Q_toumeyi_JL14_-_single_copy_region (reversed)}};
\node[rl,ug] (b75) at (1240.5,{\RY{75}}) {\qn{Q_gambelli_SRR2053047_-_single_copy_region}};
\node[rl,ug] (b76) at (1216.3,{\RY{76}}) {\qn{Q_bicolor_SRR2053058_-_single_copy_region (reversed)}};
\node[rl,ug] (b77) at (1209.2,{\RY{77}}) {\qn{Q_muehlenbergii_SRR2053048_-_single_copy_region}};
\node[rl,ug] (b78) at (1209.2,{\RY{78}}) {\qn{Q_muehlenbergii_SRR2053053_-_single_copy_region}};
\node[rl,ub] (b79) at (1229.5,{\RY{79}}) {\qn{Q_minima_2774_-_single_copy_region (reversed)}};
\node[rl,ug] (b80) at (1216.3,{\RY{80}}) {\qn{Q_vaseyana_SRR2053036_-_single_copy_region (reversed)}};
\node[rl,ug] (b81) at (1201.4,{\RY{81}}) {\qn{Q_striatula_JL52_-_single_copy_region (reversed)}};
\node[rl,ug] (b82) at (1201.2,{\RY{82}}) {\qn{Q_depressa_JL39_-_single_copy_region}};
\node[rl,ug] (b83) at (1201.2,{\RY{83}}) {\qn{Q_polymorpha_JL13_-_single_copy_region}};
\node[rl,ug] (b84) at (1202.7,{\RY{84}}) {\qn{Q_laceyi_JL17_-_single_copy_region}};
\node[rl,ug] (b85) at (1195.7,{\RY{85}}) {\qn{Q_greggi_JL50_-_single_copy_region}};
\node[rl,ug] (b86) at (1189.2,{\RY{86}}) {\qn{Q_mohriana_SRR2053038_-_single_copy_region}};
\node[rl,ug] (b87) at (1188.9,{\RY{87}}) {\qn{Q_muehlenbergii_SRR2053041_-_single_copy_region (reversed)}};

% ---------- right internal nodes
\coordinate (Rroot) at (1530.6,{\RY{9.57}});
\coordinate (Rout) at (1482.1,{\RY{0.5}});
\coordinate (Rin) at (1482.1,{\RY{18.64}});
\coordinate (RA) at (1475.6,{\RY{6.43}});
\coordinate (RB) at (1468.1,{\RY{3.69}});
\coordinate (RC) at (1374,{\RY{2.5}});
\coordinate (RD) at (1405.5,{\RY{4.875}});
\coordinate (RE) at (1347.6,{\RY{5.75}});
\coordinate (RF) at (1225.8,{\RY{6.5}});
\coordinate (RG) at (1366.4,{\RY{9.18}});
\coordinate (RH) at (1343.1,{\RY{10.36}});
\coordinate (RI) at (1336.6,{\RY{11.72}});
\coordinate (RJ) at (1328.6,{\RY{10.5}});
\coordinate (RK) at (1293,{\RY{12.94}});
\coordinate (RL) at (1276.5,{\RY{13.875}});
\coordinate (RM) at (1270,{\RY{14.75}});
\coordinate (RN) at (1263.5,{\RY{15.5}});
\coordinate (RO) at (1472.7,{\RY{30.86}});
\coordinate (RP) at (1461.3,{\RY{18.83}});
\coordinate (RQ) at (1408,{\RY{20.66}});
\coordinate (RR) at (1234.4,{\RY{23.33}});
\coordinate (RS) at (1227,{\RY{19.875}});
\coordinate (RT) at (1214,{\RY{20.75}});
\coordinate (RU) at (1207.5,{\RY{21.5}});
\coordinate (RV) at (1222.6,{\RY{26.78}});
\coordinate (RW) at (1215.3,{\RY{24.25}});
\coordinate (RX) at (1204.4,{\RY{25.5}});
\coordinate (RY) at (1178.9,{\RY{24.5}});
\coordinate (RZ) at (1197.1,{\RY{26.5}});
\coordinate (RAA) at (1215.3,{\RY{29.31}});
\coordinate (RAF) at (1208.8,{\RY{30.625}});
\coordinate (RAC) at (1193.2,{\RY{29.5}});
\coordinate (RAE) at (1197.1,{\RY{31.75}});
\coordinate (RAD) at (1189.3,{\RY{32.5}});
\coordinate (RAG) at (1458.7,{\RY{42.88}});
\coordinate (RAH) at (1427.3,{\RY{51.76}});
\coordinate (RAI) at (1420,{\RY{38.46}});
\coordinate (RAJ) at (1345,{\RY{35.75}});
\coordinate (RAK) at (1293.5,{\RY{36.5}});
\coordinate (RAL) at (1408,{\RY{41.18}});
\coordinate (RAM) at (1329.8,{\RY{38.5}});
\coordinate (RAN) at (1303.4,{\RY{43.85}});
\coordinate (RAO) at (1231.5,{\RY{40.5}});
\coordinate (RAP) at (1253.9,{\RY{47.2}});
\coordinate (RAQ) at (1244.5,{\RY{43.17}});
\coordinate (RK1) at (1237.5,{\RY{44.34}});
\coordinate (RK2) at (1230.4,{\RY{45.69}});
\coordinate (RK3) at (1223.2,{\RY{44.5}});
\coordinate (RK4) at (1224.4,{\RY{46.875}});
\coordinate (RK5) at (1216.6,{\RY{47.75}});
\coordinate (RK6) at (1210.1,{\RY{48.5}});
\coordinate (RK7) at (1247.4,{\RY{51.23}});
\coordinate (RK8) at (1232.3,{\RY{52.45}});
\coordinate (RK9) at (1222.6,{\RY{53.91}});
\coordinate (RK10) at (1214.8,{\RY{52.5}});
\coordinate (RK11) at (1215.9,{\RY{55.31}});
\coordinate (RK14) at (1197.9,{\RY{56.625}});
\coordinate (RK13) at (1190.6,{\RY{55.5}});
\coordinate (RK15) at (1190.6,{\RY{57.75}});
\coordinate (RK16) at (1184.1,{\RY{58.5}});
\coordinate (RAS) at (1420,{\RY{65.06}});
\coordinate (RAT) at (1270,{\RY{60.75}});
\coordinate (RAU) at (1259.6,{\RY{61.5}});
\coordinate (RAV) at (1405.5,{\RY{69.38}});
\coordinate (RAW) at (1276.5,{\RY{65.875}});
\coordinate (RAX) at (1264.8,{\RY{63.875}});
\coordinate (RAY) at (1251.8,{\RY{64.75}});
\coordinate (RAZ) at (1245.3,{\RY{65.5}});
\coordinate (RBA) at (1266.1,{\RY{67.875}});
\coordinate (RBB) at (1260.4,{\RY{68.75}});
\coordinate (RBC) at (1232.3,{\RY{69.5}});
\coordinate (RBD) at (1288.8,{\RY{72.88}});
\coordinate (RBE) at (1281.7,{\RY{74.76}});
\coordinate (RBF) at (1252.6,{\RY{72.75}});
\coordinate (RBG) at (1221.9,{\RY{73.5}});
\coordinate (RBH) at (1275.2,{\RY{76.77}});
\coordinate (RBI) at (1266.9,{\RY{78.54}});
\coordinate (RBJ) at (1238.8,{\RY{76.75}});
\coordinate (RBK) at (1217.4,{\RY{77.5}});
\coordinate (RBL) at (1238.3,{\RY{80.33}});
\coordinate (RBM) at (1224.5,{\RY{81.66}});
\coordinate (RBN) at (1218,{\RY{83.31}});
\coordinate (RBO) at (1209.6,{\RY{81.75}});
\coordinate (RBP) at (1202.8,{\RY{82.5}});
\coordinate (RBQ) at (1211.4,{\RY{84.875}});
\coordinate (RBR) at (1204.9,{\RY{85.75}});
\coordinate (RBS) at (1197.1,{\RY{86.5}});

\foreach \p/\c in {Rroot/Rout,Rroot/Rin,Rin/RA,Rin/RO,RA/RB,RA/RG,RB/RC,RB/RD,RD/RE,RE/RF,RG/RH,RH/RI,RI/RJ,RI/RK,RK/RL,RL/RM,RM/RN,RO/RP,RO/RAG,RP/RQ,RQ/RR,RR/RS,RR/RV,RS/RT,RT/RU,RV/RW,RV/RAA,RW/RX,RX/RY,RX/RZ,RAA/RAF,RAF/RAC,RAF/RAE,RAE/RAD,RAG/RAH,RAH/RAI,RAH/RAS,RAI/RAJ,RAI/RAL,RAJ/RAK,RAL/RAM,RAL/RAN,RAN/RAO,RAN/RAP,RAP/RAQ,RAP/RK7,RAQ/RK1,RK1/RK2,RK2/RK3,RK2/RK4,RK4/RK5,RK5/RK6,RK7/RK8,RK8/RK9,RK9/RK10,RK9/RK11,RK11/RK14,RK14/RK13,RK14/RK15,RK15/RK16,RAS/RAT,RAS/RAV,RAT/RAU,RAV/RAW,RAV/RBD,RAW/RAX,RAW/RBA,RAX/RAY,RAY/RAZ,RBA/RBB,RBB/RBC,RBD/RBE,RBE/RBF,RBE/RBH,RBF/RBG,RBH/RBI,RBI/RBJ,RBI/RBL,RBJ/RBK,RBL/RBM,RBM/RBN,RBN/RBO,RBN/RBQ,RBO/RBP,RBQ/RBR,RBR/RBS}
  \draw[rtr] (\p) |- (\c);
\foreach \p/\c in {Rout/b0,Rout/b1,RC/b2,RC/b3,RD/b4,RE/b5,RF/b6,RF/b7,RG/b8,RH/b9,RJ/b10,RJ/b11,RK/b12,RL/b13,RM/b14,RN/b15,RN/b16,RP/b17,RQ/b18,RS/b19,RT/b20,RU/b21,RU/b22,RW/b23,RY/b24,RY/b25,RZ/b26,RZ/b27,RAA/b28,RAC/b29,RAC/b30,RAE/b31,RAD/b32,RAD/b33,RAG/b34,RAJ/b35,RAK/b36,RAK/b37,RAM/b38,RAM/b39,RAO/b40,RAO/b41,RAQ/b42,RK1/b43,RK3/b44,RK3/b45,RK4/b46,RK5/b47,RK6/b48,RK6/b49,RK7/b50,RK8/b51,RK10/b52,RK10/b53,RK11/b54,RK13/b55,RK13/b56,RK15/b57,RK16/b58,RK16/b59,RAT/b60,RAU/b61,RAU/b62,RAX/b63,RAY/b64,RAZ/b65,RAZ/b66,RBA/b67,RBB/b68,RBC/b69,RBC/b70,RBD/b71,RBF/b72,RBG/b73,RBG/b74,RBH/b75,RBJ/b76,RBK/b77,RBK/b78,RBL/b79,RBM/b80,RBO/b81,RBP/b82,RBP/b83,RBQ/b84,RBR/b85,RBS/b86,RBS/b87}
  \draw[rtr] (\p) |- (\c.east);

% right support values
\node[rs] (sRA) at (RA) {0,388};
\node[rs] (sRB) at (RB) {0,784};
\node[rs] (sRC) at (RC) {1};
\node[rs] (sRD) at (RD) {1};
\node[rs] (sRE) at (RE) {1};
\node[rs] (sRF) at (RF) {1};
\node[rs] (sRG) at (RG) {1};
\node[rs] (sRH) at (RH) {1};
\node[rs] (sRI) at (RI) {0,997};
\node[rs] (sRJ) at (RJ) {0,99};
\node[rs] (sRK) at (RK) {1};
\node[rs] (sRL) at (RL) {1};
\node[rs] (sRM) at (RM) {0,957};
\node[rs] (sRN) at (RN) {0,982};
\node[rs] (sRin) at (Rin) {1};
\node[rs] (sRO) at (RO) {0,984};
\node[rs] (sRP) at (RP) {0,962};
\node[rs] (sRQ) at (RQ) {1};
\node[rs] (sRR) at (RR) {1};
\node[rs] (sRS) at (RS) {0,9};
\node[rs] (sRT) at (RT) {1};
\node[rs] (sRU) at (RU) {0,801};
\node[rs] (sRV) at (RV) {1};
\node[rs] (sRW) at (RW) {0,327};
\node[rs] (sRX) at (RX) {0,997};
\node[rs] (sRY) at (RY) {1};
\node[rs] (sRZ) at (RZ) {0,997};
\node[rs] (sRAA) at (RAA) {0,75};
\node[rs] (sRAF) at (RAF) {0,928};
\node[rs] (sRAC) at (RAC) {1};
\node[rs] (sRAE) at (RAE) {1};
\node[rs] (sRAD) at (RAD) {0,669};
\node[rs] (sRAG) at (RAG) {0,998};
\node[rs] (sRAH) at (RAH) {1};
\node[rs] (sRAI) at (RAI) {0,893};
\node[rs] (sRAJ) at (RAJ) {1};
\node[rs] (sRAK) at (RAK) {1};
\node[rs] (sRAL) at (RAL) {0,99};
\node[rs] (sRAM) at (RAM) {1};
\node[rs] (sRAN) at (RAN) {1};
\node[rs] (sRAP) at (RAP) {1};
\node[rs] (sRAQ) at (RAQ) {0,95};
\node[rs,yshift=2.6pt] (sRK1) at (RK1) {0,991};
\node[rs] (sRK2) at (RK2) {0,98};
\node[rs] (sRK3) at (RK3) {0,996};
\node[rs] (sRK4) at (RK4) {0,955};
\node[rs] (sRK5) at (RK5) {0,769};
\node[rs] (sRK6) at (RK6) {0,984};
\node[rs] (sRK7) at (RK7) {0,667};
\node[rs] (sRK8) at (RK8) {1};
\node[rs] (sRK9) at (RK9) {1};
\node[rs] (sRK10) at (RK10) {0,999};
\node[rs] (sRK11) at (RK11) {0,992};
\node[rs] (sRK13) at (RK13) {0,942};
\node[rs] (sRK14) at (RK14) {1};
\node[rs] (sRK15) at (RK15) {0,868};
\node[rs] (sRK16) at (RK16) {0,756};
\node[rs] (sRAS) at (RAS) {0,673};
\node[rs] (sRAT) at (RAT) {1};
\node[rs] (sRAV) at (RAV) {0,573};
\node[rs] (sRAW) at (RAW) {1};
\node[rs] (sRAX) at (RAX) {0,934};
\node[rs] (sRAY) at (RAY) {1};
\node[rs] (sRAZ) at (RAZ) {0,803};
\node[rs] (sRBA) at (RBA) {0,924};
\node[rs] (sRBB) at (RBB) {0,988};
\node[rs] (sRBC) at (RBC) {1};
\node[rs] (sRBD) at (RBD) {1};
\node[rs] (sRBE) at (RBE) {0,539};
\node[rs] (sRBF) at (RBF) {1};
\node[rs] (sRBG) at (RBG) {1};
\node[rs] (sRBH) at (RBH) {0,362};
\node[rs] (sRBI) at (RBI) {0,997};
\node[rs] (sRBJ) at (RBJ) {1};
\node[rs] (sRBK) at (RBK) {1};
\node[rs] (sRBL) at (RBL) {1};
\node[rs] (sRBM) at (RBM) {1};
\node[rs] (sRBN) at (RBN) {0,631};
\node[rs] (sRBO) at (RBO) {1};
\node[rs] (sRBQ) at (RBQ) {0,406};
\node[rs] (sRBR) at (RBR) {0,385};
\node[rs] (sRBS) at (RBS) {0,978};

\coordinate (rsb1) at (1285.6,1140.1);
\coordinate (rsb2) at (1324.7,1140.1);
\draw[rtr,line width=0.6pt] (rsb1) -- (rsb2);
\node[font=\fontsize{5.5}{5.5}\selectfont,text=black!60,inner sep=0pt] (rsbl) at (1305,1168.5) {1,0E-4};

% ---------- big labels
\node[bigt,anchor=base west] (cerris) at (633,257) {Cerris};
\node[bigt,anchor=base west,font=\calfnt\fontsize{27}{27}\selectfont] (proto) at (568,309.7) {Protobalanus};
\node[bigt,anchor=base west,rotate=90] (querc) at (668,612) {Quercus};
\node[bigt,anchor=base west,rotate=90] (lobat) at (716,873) {Lobatae};
\node[bigt,anchor=base west,rotate=90] (cyclo) at (668,1172) {Cyclobalanopsis};
\node[bigt,anchor=base west] (nrc) at (41,1156) {NRC – 13kb};
\node[bigt,anchor=base east] (plast) at (1488,1156) {Plastome – 150kb};
\end{tikzpicture}
\end{document}
